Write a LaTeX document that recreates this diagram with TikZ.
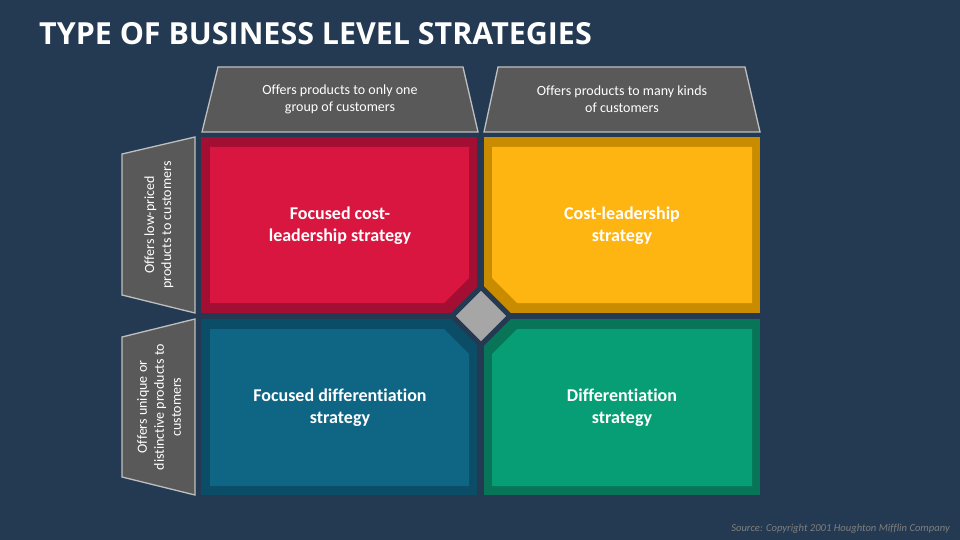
\documentclass[tikz,border=0pt]{standalone}
\usepackage{fontspec}
\setmainfont{Carlito}[RawFeature=-liga]
\newfontfamily\titlefont{Open Sans}
\definecolor{bgc}{HTML}{243A52}
\definecolor{redin}{HTML}{D91640}
\definecolor{redout}{HTML}{A30F33}
\definecolor{yelin}{HTML}{FFB511}
\definecolor{yelout}{HTML}{C98B00}
\definecolor{bluin}{HTML}{0F6584}
\definecolor{bluout}{HTML}{0B4C66}
\definecolor{grnin}{HTML}{079E76}
\definecolor{grnout}{HTML}{087558}
\definecolor{panel}{HTML}{595959}
\definecolor{panelline}{HTML}{BFBFBF}
\definecolor{diam}{HTML}{A6A6A6}
\definecolor{srcgray}{HTML}{7F7F7F}
\tikzset{
  hdr/.style={fill=panel,draw=panelline,line width=1.3pt,line join=miter},
  hdrtext/.style={text=white,font=\fontsize{14}{17}\selectfont,align=center,inner sep=0pt},
  quadtext/.style={text=white,font=\fontsize{18}{22}\selectfont\bfseries,align=center,inner sep=0pt},
}
\begin{document}
\begin{tikzpicture}[x=1pt,y=-1pt]
\fill[bgc] (0,0) rectangle (960,540);
\useasboundingbox (0,0) rectangle (960,540);
% title
\node[anchor=base west,text=white,font=\titlefont\fontsize{30.4}{36}\selectfont\bfseries,inner sep=0pt] (title) at (39,45) {TYPE OF BUSINESS LEVEL STRATEGIES};
% top headers
\draw[hdr] (218,67) -- (463,67) -- (478,132) -- (202,132) -- cycle;
\draw[hdr] (498,67) -- (745,67) -- (760,132) -- (484,132) -- cycle;
\node[hdrtext] (h1) at (340,99) {Offers products to only one\\group of customers};
\node[hdrtext] (h2) at (622,99) {Offers products to many kinds\\of customers};
% left headers
\draw[hdr] (195,137) -- (195,313) -- (122,295) -- (122,154) -- cycle;
\draw[hdr] (195,319) -- (195,495) -- (122,477) -- (122,337) -- cycle;
\node[hdrtext,rotate=90] (v1) at (159,225) {Offers low-priced\\products to customers};
\node[hdrtext,rotate=90] (v2) at (159,407) {Offers unique or\\distinctive products to\\customers};
% quadrants
\fill[redout] (201,137) rectangle (477,313);
\fill[redin] (210,147) -- (469,147) -- (469,278) -- (444,303) -- (210,303) -- cycle;
\fill[yelout] (484,137) rectangle (760,313);
\fill[yelin] (492,147) -- (752,147) -- (752,303) -- (517,303) -- (492,278) -- cycle;
\fill[bluout] (201,319) rectangle (477,495);
\fill[bluin] (210,329) -- (444,329) -- (469,354) -- (469,486) -- (210,486) -- cycle;
\fill[grnout] (484,319) rectangle (760,495);
\fill[grnin] (517,329) -- (752,329) -- (752,486) -- (492,486) -- (492,354) -- cycle;
% diamond
\draw[fill=diam,draw=bgc,line width=5pt,line join=miter] (481,287) -- (510,316) -- (481,345) -- (452,316) -- cycle;
% quadrant texts
\node[quadtext] (q1) at (340,225.5) {Focused cost-\\leadership strategy};
\node[quadtext] (q2) at (622,225.5) {Cost-leadership\\strategy};
\node[quadtext] (q3) at (340,407.5) {Focused differentiation\\strategy};
\node[quadtext] (q4) at (622,407.5) {Differentiation\\strategy};
% source
\node[anchor=base east,text=srcgray,font=\fontsize{10.6}{12}\selectfont\itshape,inner sep=0pt] (src) at (950,531) {Source: Copyright 2001 Houghton Mifflin Company};
\end{tikzpicture}
\end{document}
